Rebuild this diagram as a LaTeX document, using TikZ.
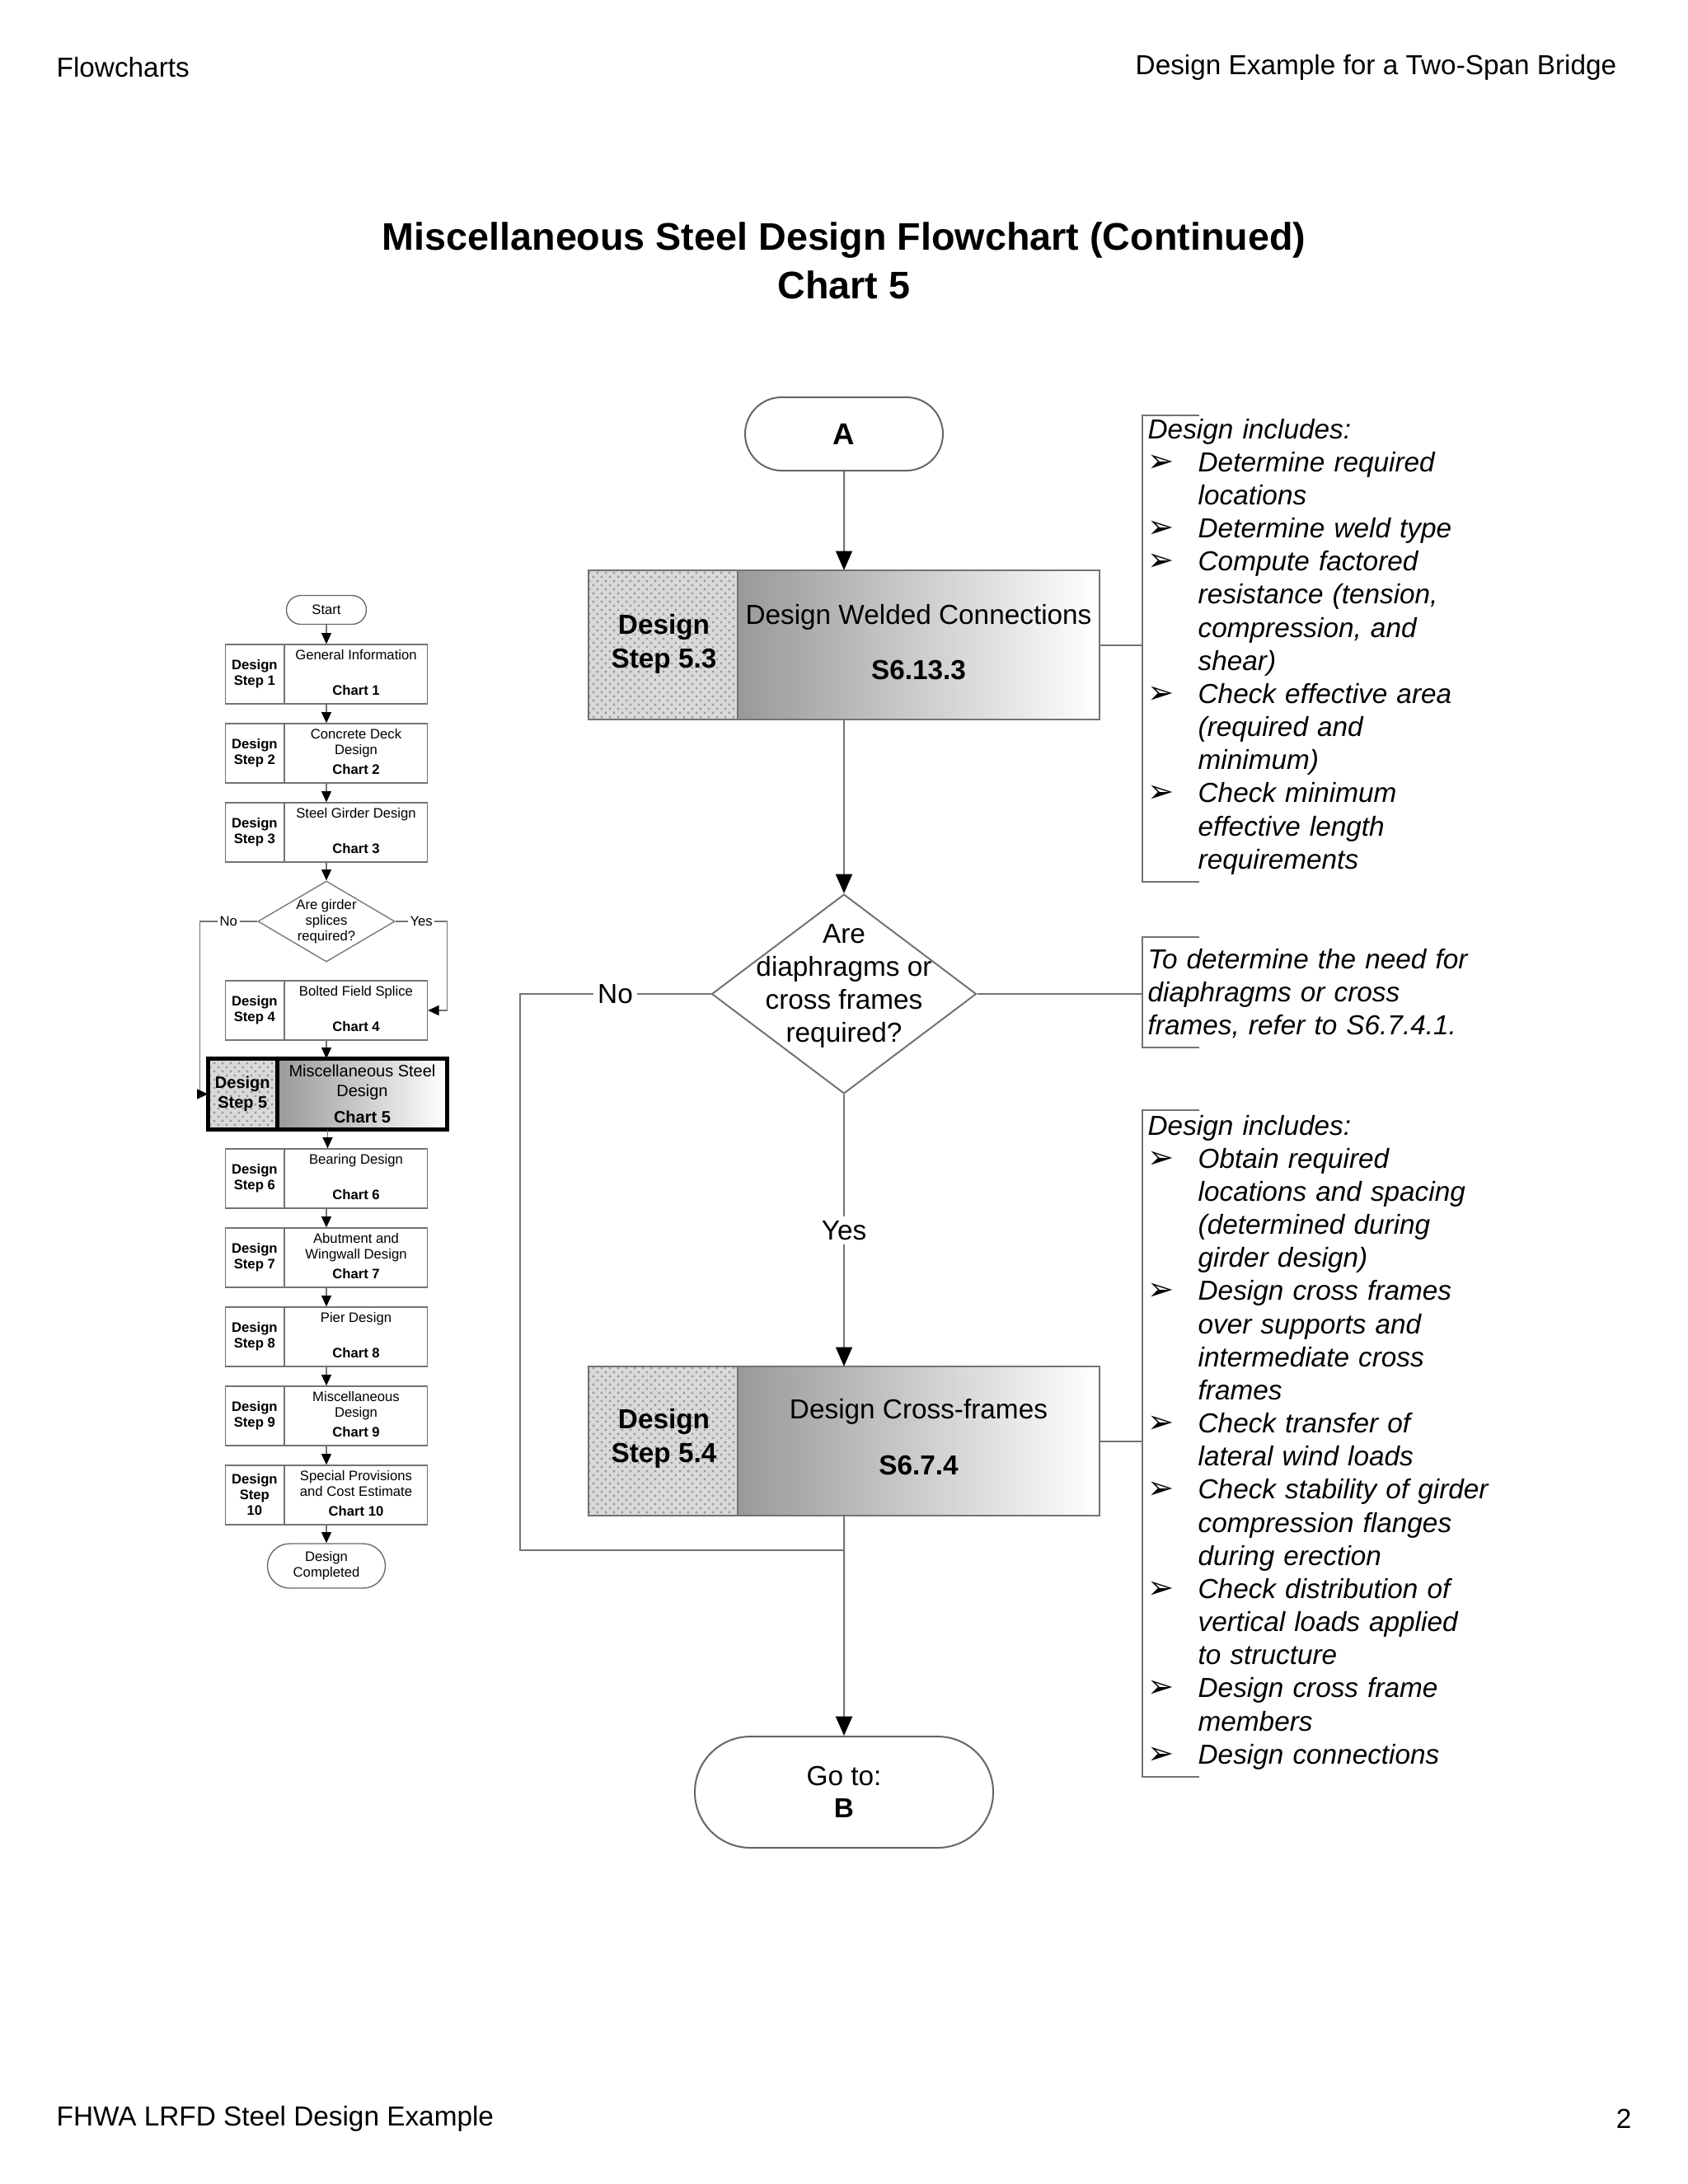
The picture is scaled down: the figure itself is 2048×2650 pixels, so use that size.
\documentclass[tikz,border=0pt]{standalone}
\usepackage{fontspec}
\setmainfont{Liberation Sans}
\newfontfamily\symfont{DejaVu Sans}
\usetikzlibrary{arrows.meta,shapes.geometric,shapes.misc,patterns,positioning}

\newcommand{\bul}{\makebox[18.3pt][l]{\symfont\upshape\fontsize{11.5}{11.5}\selectfont\symbol{"27A2}}}
\newcommand{\ind}{\hspace*{18.3pt}}

\tikzset{
    conn/.style={draw=black!55, line width=0.6pt},
    arr/.style={conn, -{Triangle[length=7pt,width=6pt,color=black]}},
    sconn/.style={draw=black!55, line width=0.4pt},
    sarr/.style={sconn, -{Triangle[length=4pt,width=3.6pt,color=black]}},
    term/.style={rounded rectangle, draw=black!60, line width=0.6pt, fill=white, inner sep=0pt, align=center},
    bigbox/.style={rectangle, minimum width=185.4pt, minimum height=54pt, inner sep=0pt},
    smallbox/.style={rectangle, draw=black!55, line width=0.4pt, minimum width=73.5pt, minimum height=21.6pt, inner sep=0pt},
    hatch/.style={fill=gray!30, postaction={pattern=crosshatch dots, pattern color=gray!80}},
    grad/.style={left color=black!40, right color=white},
    note/.style={anchor=base west, text width=150pt, align=left, inner sep=0pt, font=\fontsize{10}{12.05}\selectfont\itshape},
    page/.style={inner sep=0pt, font=\fontsize{10}{12}\selectfont},
    lbl/.style={fill=white, inner sep=1.5pt, font=\fontsize{10}{12}\selectfont},
    slbl/.style={fill=white, inner sep=0.8pt, font=\fontsize{5}{6}\selectfont},
    smalltxt/.style={inner sep=0pt, align=center, font=\fontsize{5}{5.7}\selectfont},
}

\begin{document}
\begin{tikzpicture}[x=0.3pt, y=-0.3pt]
    \useasboundingbox (0,0) rectangle (2048,2650);

    % page header, footer and title
    \node[page, anchor=west] (hdl) at (68,82) {Flowcharts};
    \node[page, anchor=east] (hdr) at (1962,82) {Design Example for a Two-Span Bridge};
    \node[page, anchor=west] (ftl) at (68,2571) {FHWA LRFD Steel Design Example};
    \node[page, anchor=east] (ftr) at (1980,2571) {2};
    \node[align=center, font=\fontsize{14}{17.7}\selectfont\bfseries] (title) at (1024,316)
        {Miscellaneous Steel Design Flowchart (Continued)\\Chart 5};

    % overview chart
    \node[term, line width=0.4pt, minimum width=29.1pt, minimum height=10.5pt, font=\fontsize{5}{6}\selectfont] (start) at (396,740) {Start};
    \foreach \n/\cy/\lt/\ttl in {1/818/{Step 1}/{General Information},
                                 2/914/{Step 2}/{Concrete Deck\\Design},
                                 3/1010/{Step 3}/{Steel Girder Design},
                                 4/1226/{Step 4}/{Bolted Field Splice},
                                 6/1430/{Step 6}/{Bearing Design},
                                 7/1526/{Step 7}/{Abutment and\\Wingwall Design},
                                 8/1622/{Step 8}/{Pier Design},
                                 9/1718/{Step 9}/{Miscellaneous\\Design},
                                 10/1814/{Step\\10}/{Special Provisions\\and Cost Estimate}} {
        \node[smallbox] (st\n) at (396,\cy) {};
        \draw[sconn] ([xshift=21.6pt]st\n.north west) -- ([xshift=21.6pt]st\n.south west);
        \node[smalltxt, font=\fontsize{5}{5.7}\selectfont\bfseries] (st\n-l) at ([xshift=10.8pt]st\n.west) {Design\\\lt};
        \node[smalltxt, anchor=north] (st\n-t) at ([xshift=10.8pt,yshift=-2pt]st\n.north) {\ttl};
        \node[smalltxt, font=\fontsize{5}{5.7}\selectfont\bfseries] (st\n-c) at ([xshift=10.8pt,yshift=5pt]st\n.south) {Chart \n};
    }

    \node[rectangle, minimum width=86.7pt, minimum height=25.5pt, inner sep=0pt] (st5) at (397.5,1327.5) {};
    \path[hatch] (st5.north west) rectangle ([xshift=25.2pt]st5.south west);
    \path[grad] ([xshift=25.2pt]st5.north west) rectangle (st5.south east);
    \draw[line width=1.4pt] (st5.north west) rectangle (st5.south east);
    \draw[line width=1.4pt] ([xshift=25.2pt]st5.north west) -- ([xshift=25.2pt]st5.south west);
    \node[smalltxt, font=\fontsize{6}{7.2}\selectfont\bfseries] (st5-l) at ([xshift=12.6pt]st5.west) {Design\\Step 5};
    \node[smalltxt, anchor=north, font=\fontsize{6}{7.2}\selectfont] (st5-t) at ([xshift=12.6pt,yshift=-2pt]st5.north) {Miscellaneous Steel\\Design};
    \node[smalltxt, font=\fontsize{6}{7.2}\selectfont\bfseries] (st5-c) at ([xshift=12.6pt,yshift=4.5pt]st5.south) {Chart 5};

    \node[diamond, draw=black!55, line width=0.4pt, minimum width=49.8pt, minimum height=29.4pt, inner sep=0pt] (gq) at (396,1118) {};
    \node[smalltxt] (gq-t) at (396,1118) {Are girder\\splices\\required?};
    \node[term, line width=0.4pt, minimum width=42.9pt, minimum height=16.2pt, font=\fontsize{5}{5.7}\selectfont] (done) at (396,1900) {Design\\Completed};

    \foreach \a/\b in {start/st1, st1/st2, st2/st3, st3/gq, st4/st5, st5/st6, st6/st7, st7/st8, st8/st9, st9/st10, st10/done}
        \draw[sarr] (\a.south) -- (\a.south |- \b.north);
    \draw[sarr] (gq.west) -- node[slbl] {No} ++(-70,0) |- (st5.west);
    \draw[sarr] (gq.east) -- node[slbl] {Yes} ++(63,0) |- (st4.east);

    % main chart
    \node[term, minimum width=72pt, minimum height=26.7pt, font=\fontsize{11}{12}\selectfont\bfseries] (ta) at (1024,526.5) {A};

    \node[bigbox] (s53) at (1024,782.5) {};
    \path[hatch] (s53.north west) rectangle ([xshift=54.3pt]s53.south west);
    \path[grad] ([xshift=54.3pt]s53.north west) rectangle (s53.south east);
    \draw[conn] (s53.north west) rectangle (s53.south east);
    \draw[conn] ([xshift=54.3pt]s53.north west) -- ([xshift=54.3pt]s53.south west);
    \node[align=center, font=\fontsize{10}{12.3}\selectfont\bfseries] (s53-l) at (805.5,781) {Design\\Step 5.3};
    \node[font=\fontsize{10}{12}\selectfont] (s53-t) at (1114.5,749) {Design Welded Connections};
    \node[font=\fontsize{10}{12}\selectfont\bfseries] (s53-c) at (1114.5,813) {S6.13.3};

    \node[diamond, draw=black!55, line width=0.6pt, minimum width=96.3pt, minimum height=72.6pt, inner sep=0pt] (dq) at (1024,1206) {};
    \node[align=center, font=\fontsize{10}{12}\selectfont] (dq-t) at (1024,1196) {Are\\diaphragms or\\cross frames\\required?};

    \node[bigbox] (s54) at (1024,1748.5) {};
    \path[hatch] (s54.north west) rectangle ([xshift=54.3pt]s54.south west);
    \path[grad] ([xshift=54.3pt]s54.north west) rectangle (s54.south east);
    \draw[conn] (s54.north west) rectangle (s54.south east);
    \draw[conn] ([xshift=54.3pt]s54.north west) -- ([xshift=54.3pt]s54.south west);
    \node[align=center, font=\fontsize{10}{12.3}\selectfont\bfseries] (s54-l) at (805.5,1745.5) {Design\\Step 5.4};
    \node[font=\fontsize{10}{12}\selectfont] (s54-t) at (1114.5,1713) {Design Cross-frames};
    \node[font=\fontsize{10}{12}\selectfont\bfseries] (s54-c) at (1114.5,1778) {S6.7.4};

    \node[term, minimum width=108.6pt, minimum height=40.5pt, font=\fontsize{10}{11.7}\selectfont] (gob) at (1024,2174.5) {Go to:\\\textbf{B}};

    \coordinate (jn) at (1024,1881);
    \draw[arr] (ta) -- (s53);
    \draw[arr] (s53) -- (dq);
    \draw[arr] (dq) -- node[lbl] {Yes} (s54);
    \draw[arr] (s54) -- (gob);
    \draw[conn] (dq.west) -- node[lbl] {No} ++(-232,0) |- (jn);

    % notes
    \coordinate (b1) at (1386,782.5);
    \coordinate (b2) at (1386,1206);
    \coordinate (b3) at (1386,1748.5);
    \draw[conn] (s53.east) -- (b1);
    \draw[conn] (dq.east) -- (b2);
    \draw[conn] (s54.east) -- (b3);
    \draw[conn] (1455,504) -| (1386,1070) -- (1455,1070);
    \draw[conn] (1455,1137) -| (1386,1271) -- (1455,1271);
    \draw[conn] (1455,1347) -| (1386,2156) -- (1455,2156);

    \node[note] (n1) at (1392,532) {Design includes:\\
        \bul Determine required\\
        \ind locations\\
        \bul Determine weld type\\
        \bul Compute factored\\
        \ind resistance (tension,\\
        \ind compression, and\\
        \ind shear)\\
        \bul Check effective area\\
        \ind (required and\\
        \ind minimum)\\
        \bul Check minimum\\
        \ind effective length\\
        \ind requirements};
    \node[note] (n2) at (1392,1175) {To determine the need for\\diaphragms or cross\\frames, refer to S6.7.4.1.};
    \node[note] (n3) at (1392,1377) {Design includes:\\
        \bul Obtain required\\
        \ind locations and spacing\\
        \ind (determined during\\
        \ind girder design)\\
        \bul Design cross frames\\
        \ind over supports and\\
        \ind intermediate cross\\
        \ind frames\\
        \bul Check transfer of\\
        \ind lateral wind loads\\
        \bul Check stability of girder\\
        \ind compression flanges\\
        \ind during erection\\
        \bul Check distribution of\\
        \ind vertical loads applied\\
        \ind to structure\\
        \bul Design cross frame\\
        \ind members\\
        \bul Design connections};
\end{tikzpicture}
\end{document}
